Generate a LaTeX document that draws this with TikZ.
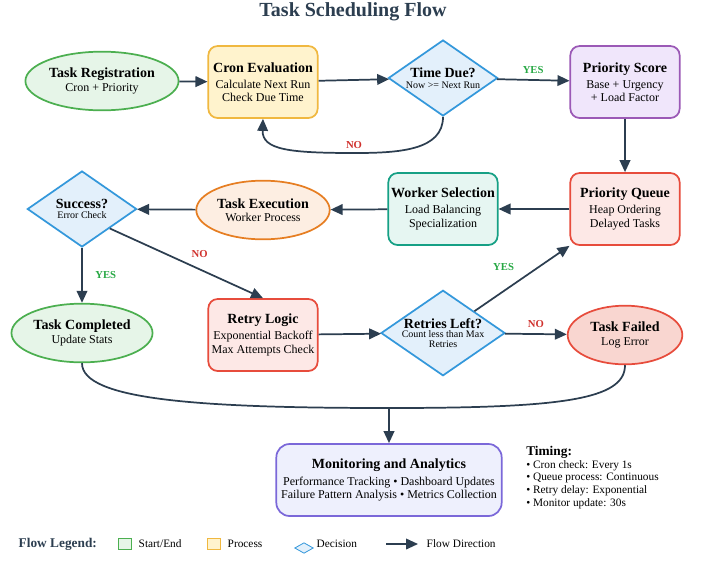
\documentclass[tikz,border=0pt]{standalone}
\usepackage{fontspec}
\setmainfont{Liberation Serif}
\usetikzlibrary{shapes.geometric,arrows.meta}
\newcommand{\ttlfont}{\fontsize{10.5}{12}\selectfont\bfseries}
\definecolor{edge}{HTML}{2C3E50}
\definecolor{gF}{HTML}{E6F5E8}\definecolor{gD}{HTML}{4CAF50}
\definecolor{oF}{HTML}{FFF3CD}\definecolor{oD}{HTML}{F0B840}
\definecolor{bF}{HTML}{E3F0FB}\definecolor{bD}{HTML}{3498DB}
\definecolor{pF}{HTML}{F0E6FB}\definecolor{pD}{HTML}{9B59B6}
\definecolor{rF}{HTML}{FDE8E6}\definecolor{rD}{HTML}{E74C3C}
\definecolor{tF}{HTML}{E6F6F2}\definecolor{tD}{HTML}{16A085}
\definecolor{eF}{HTML}{FDEEE2}\definecolor{eD}{HTML}{E67E22}
\definecolor{mF}{HTML}{EEF0FD}\definecolor{mD}{HTML}{7B68D9}
\definecolor{failF}{HTML}{F9D6D0}
\definecolor{yes}{HTML}{27A844}\definecolor{no}{HTML}{D0312D}
\tikzset{
 base/.style={line width=1.3pt,align=center,font=\fontsize{9}{10}\selectfont,inner sep=1pt},
 ell/.style={base,ellipse,minimum width=#1,minimum height=44pt},
 box/.style={base,rectangle,rounded corners=7pt,minimum width=82pt,minimum height=54pt},
 dia/.style={base,diamond,minimum width=82pt,minimum height=57pt,aspect=1.45,draw=bD,fill=bF,inner sep=0pt},
 flow/.style={draw=edge,line width=1.3pt,-{Triangle[length=9pt,width=8pt]}},
 lab/.style={font=\fontsize{8}{9}\selectfont\bfseries},
}
\begin{document}
\begin{tikzpicture}[x=0.75pt,y=-0.75pt]
\useasboundingbox (0,0) rectangle (706,565);
\node[font=\fontsize{15}{17}\selectfont\bfseries,text=edge] (title) at (353,12) {Task Scheduling Flow};
\node[ell=98pt,draw=gD,fill=gF] (reg) at (102,81) {{\ttlfont Task Registration}\\Cron + Priority};
\node[box,draw=oD,fill=oF] (cron) at (263,82) {{\ttlfont Cron Evaluation}\\[2pt]Calculate Next Run\\Check Due Time};
\node[dia,font=\fontsize{7.5}{8}\selectfont] (due) at (443,78) {{\ttlfont Time Due?}\\Now >= Next Run};
\node[box,draw=pD,fill=pF] (score) at (625,82) {{\ttlfont Priority Score}\\[2pt]Base + Urgency\\+ Load Factor};
\node[box,draw=rD,fill=rF] (queue) at (625,209) {{\ttlfont Priority Queue}\\[2pt]Heap Ordering\\Delayed Tasks};
\node[box,draw=tD,fill=tF] (worker) at (443,209) {{\ttlfont Worker Selection}\\[2pt]Load Balancing\\Specialization};
\node[ell=78pt,draw=eD,fill=eF] (exec) at (263,210) {{\ttlfont Task Execution}\\Worker Process};
\node[dia,font=\fontsize{7.5}{8}\selectfont] (succ) at (82,209) {{\ttlfont Success?}\\Error Check};
\node[ell=84pt,draw=gD,fill=gF] (done) at (82,333) {{\ttlfont Task Completed}\\Update Stats};
\node[box,draw=rD,fill=rF] (retry) at (263,335) {{\ttlfont Retry Logic}\\[2pt]Exponential Backoff\\Max Attempts Check};
\node[dia,font=\fontsize{7.5}{7}\selectfont] (left) at (443,333) {{\ttlfont Retries Left?}\\Count less than Max\\Retries};
\node[ell=86pt,draw=rD,fill=failF] (fail) at (625,335) {{\ttlfont Task Failed}\\Log Error};
\node[base,rectangle,rounded corners=10pt,draw=mD,fill=mF,minimum width=169pt,minimum height=54pt] (mon) at (389,480) {{\ttlfont Monitoring and Analytics}\\[3pt]Performance Tracking • Dashboard Updates\\Failure Pattern Analysis • Metrics Collection};
\node[anchor=north west,align=left,font=\fontsize{8.5}{9.5}\selectfont,inner sep=0pt] (timing) at (526,446) {{\fontsize{10}{11}\selectfont\bfseries Timing:}\\• Cron check: Every 1s\\• Queue process: Continuous\\• Retry delay: Exponential\\• Monitor update: 30s};
% edges
\draw[flow] (reg) -- (cron);
\draw[flow] (cron) -- (due);
\draw[flow] (due) -- node[lab,text=yes,above=1pt]{YES} (score);
\coordinate (nomid) at (355,153);
\draw[flow] (due.south) .. controls (443,150) and (400,153) .. (nomid) .. controls (290,153) and (262,150) .. (cron.south);
\node[lab,text=no] (nolab) at (354,145) {NO};
\draw[flow] (score) -- (queue);
\draw[flow] (queue) -- (worker);
\draw[flow] (worker) -- (exec);
\draw[flow] (exec) -- (succ);
\draw[flow] (succ) -- node[lab,text=yes,right=6pt]{YES} (done);
\draw[flow] (succ.south east) -- node[lab,text=no,above right=0pt]{NO} (retry.north);
\draw[flow] (retry) -- (left);
\draw[flow] (left) -- node[lab,text=no,above=1pt]{NO} (fail);
\draw[flow] (left.north east) -- node[lab,text=yes,above left=2pt]{YES} (queue.south west);
\coordinate (merge) at (389,408);
\draw[edge,line width=1.3pt] (done.south) .. controls (82,400) and (200,408) .. (merge);
\draw[edge,line width=1.3pt] (fail.south) .. controls (625,400) and (560,408) .. (merge);
\draw[flow] (merge) -- (mon.north);
% legend
\node[anchor=west,font=\fontsize{10}{11}\selectfont\bfseries,text=edge] (lg) at (14,544) {Flow Legend:};
\node[draw=gD,fill=gF,line width=0.6pt,minimum width=10pt,minimum height=8pt,inner sep=0pt] (l1) at (125,544) {};
\node[anchor=west,font=\fontsize{8.5}{9}\selectfont] (l1t) at (134,544) {Start/End};
\node[draw=oD,fill=oF,line width=0.6pt,minimum width=10pt,minimum height=8pt,inner sep=0pt] (l2) at (214,544) {};
\node[anchor=west,font=\fontsize{8.5}{9}\selectfont] (l2t) at (223,544) {Process};
\node[diamond,aspect=1.8,draw=bD,fill=bF,line width=0.6pt,minimum width=14pt,minimum height=8pt,inner sep=0pt] (l3) at (304,548) {};
\node[anchor=west,font=\fontsize{8.5}{9}\selectfont] (l3t) at (312,544) {Decision};
\coordinate (a1) at (386,544); \coordinate (a2) at (418,544);
\draw[flow] (a1) -- (a2);
\node[anchor=west,font=\fontsize{8.5}{9}\selectfont] (l4t) at (422,544) {Flow Direction};
\end{tikzpicture}
\end{document}
